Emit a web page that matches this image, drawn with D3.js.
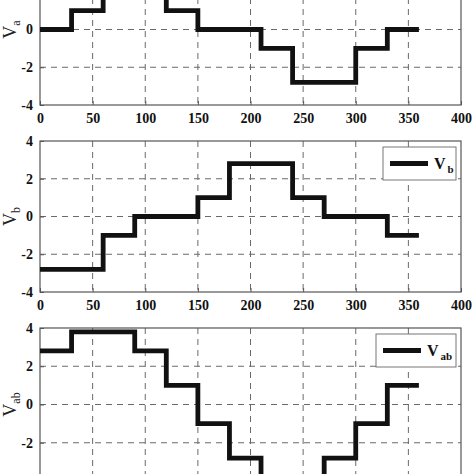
<!DOCTYPE html>
<html><head><meta charset="utf-8">
<script src="https://cdn.jsdelivr.net/npm/d3@7"></script>
<style>
html,body{margin:0;padding:0;background:#fff;}
svg{display:block;}
</style></head>
<body>
<svg id="chart" width="474" height="474"></svg>
<script>
// Segment start angles (deg); each value holds until the next start, last ends at 360
const angles = [0, 30, 60, 90, 120, 150, 180, 210, 240, 270, 300, 330, 360];
const Va  = [0, 1, 2.8, 2.8, 1, 0, 0, -1, -2.8, -2.8, -1, 0];
const Vb  = [-2.8, -2.8, -1, 0, 0, 1, 2.8, 2.8, 1, 0, 0, -1];
const Vab = [2.8, 3.8, 3.8, 2.8, 1, -1, -2.8, -3.8, -3.8, -2.8, -1, 1];
const xTicks = [0, 50, 100, 150, 200, 250, 300, 350, 400];
const yTicks = [-4, -2, 0, 2, 4];
const panels = [
  {name: "V", sub: "a", data: Va, legend: false},
  {name: "V", sub: "b", data: Vb, legend: true},
  {name: "V", sub: "ab", data: Vab, legend: true}
];

const svg = d3.select("#chart");
const W = 474, H = 474;
const left = 40, right = 461;
const tops = [-46, 141, 328];
const heights = [151, 151, 153];
const x = d3.scaleLinear().domain([0, 400]).range([left, right]);
const serif = "'Liberation Serif','DejaVu Serif',serif";
const fmt = d => String(d);

panels.forEach((p, i) => {
  const top = tops[i], plotH = heights[i];
  const y = d3.scaleLinear().domain([-4, 4]).range([top + plotH, top]);
  const g = svg.append("g");

  // grid
  g.selectAll(".vg").data(xTicks.filter(t => t > 0 && t < 400)).enter().append("line")
    .attr("x1", d => x(d)).attr("x2", d => x(d))
    .attr("y1", top).attr("y2", top + plotH)
    .attr("stroke", "#6a6a6a").attr("stroke-width", 1).attr("stroke-dasharray", "6,5");
  g.selectAll(".hg").data(yTicks.filter(t => t > -4 && t < 4)).enter().append("line")
    .attr("x1", left).attr("x2", right)
    .attr("y1", d => y(d)).attr("y2", d => y(d))
    .attr("stroke", "#6a6a6a").attr("stroke-width", 1).attr("stroke-dasharray", "6,5");

  // axes (only the parts that fall inside the visible window)
  const axes = [];
  if (top + plotH < H - 4) {
    const xa = g.append("g").attr("transform", `translate(0,${top + plotH})`)
      .call(d3.axisBottom(x).tickValues(xTicks).tickFormat(fmt).tickSizeInner(-4).tickSizeOuter(0).tickPadding(7));
    xa.selectAll(".tick text").attr("dy", "0.75em");
    axes.push(xa);
  }
  const visY = yTicks.filter(t => y(t) > 4 && y(t) < H - 4);
  const ya = g.append("g").attr("transform", `translate(${left},0)`)
    .call(d3.axisLeft(y).tickValues(visY).tickFormat(fmt).tickSizeInner(-4).tickSizeOuter(0).tickPadding(7));
  axes.push(ya);
  axes.forEach(a => {
    a.select(".domain").remove();
    a.selectAll(".tick line").attr("stroke", "#555");
    a.selectAll(".tick text").attr("fill", "#111")
      .style("font-family", serif).style("font-weight", "bold").style("font-size", "14px");
  });

  // frame
  g.append("rect").attr("x", left).attr("y", top).attr("width", right - left).attr("height", plotH)
    .attr("fill", "none").attr("stroke", "#555").attr("stroke-width", 1.2);

  // step line
  const pts = angles.map((a, k) => [a, p.data[Math.min(k, p.data.length - 1)]]);
  const line = d3.line().x(d => x(d[0])).y(d => y(d[1])).curve(d3.curveStepAfter);
  g.append("path").datum(pts).attr("d", line)
    .attr("fill", "none").attr("stroke", "#111").attr("stroke-width", 4.8)
    .attr("stroke-linejoin", "miter");

  // y label
  const cy = top + plotH / 2;
  const lbl = g.append("text").attr("transform", `translate(16,${cy}) rotate(-90)`)
    .attr("text-anchor", "middle").style("font-family", serif).style("font-size", "18px").attr("fill", "#222");
  lbl.append("tspan").text(p.name);
  lbl.append("tspan").attr("dy", "4").style("font-size", "12px").text(p.sub);

  // legend
  if (p.legend) {
    const w = p.sub.length > 1 ? 80 : 73;
    const lx = right - 5 - w, ly = top + 6, lh = 33;
    g.append("rect").attr("x", lx).attr("y", ly).attr("width", w).attr("height", lh)
      .attr("fill", "#fff").attr("stroke", "#777").attr("stroke-width", 1);
    g.append("line").attr("x1", lx + 7).attr("x2", lx + 45).attr("y1", ly + lh / 2).attr("y2", ly + lh / 2)
      .attr("stroke", "#111").attr("stroke-width", 4.8);
    const lt = g.append("text").attr("x", lx + 51).attr("y", ly + lh / 2 + 5)
      .style("font-family", serif).style("font-weight", "bold").style("font-size", "16px").attr("fill", "#111");
    lt.append("tspan").text(p.name);
    lt.append("tspan").attr("dx", "2").attr("dy", "4").style("font-size", "11px").text(p.sub);
  }
});
</script>
</body></html>
